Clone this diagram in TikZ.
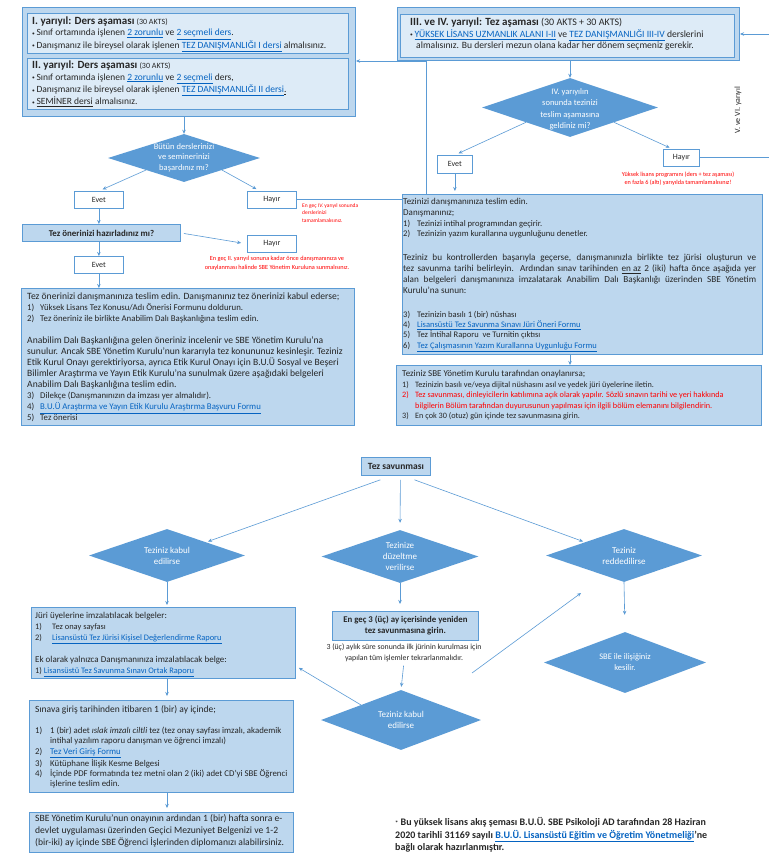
\documentclass[tikz,border=0pt]{standalone}
\usepackage{fontspec}
\setmainfont{Carlito}
\usepackage{tikz}
\usetikzlibrary{arrows.meta,positioning,calc,shapes.geometric}
\definecolor{flow}{HTML}{5B9BD5}
\definecolor{boxbg}{HTML}{BDD7EE}
\definecolor{innerbg}{HTML}{DDEBF7}
\definecolor{linkblue}{HTML}{0563C1}
\definecolor{ink}{HTML}{262626}
\newcommand{\fsz}[2]{\fontsize{#1}{#2}\selectfont}
\newcommand{\lnk}[1]{\textcolor{linkblue}{\underline{#1}}}
\newcommand{\itm}[2][14pt]{\makebox[#1][l]{#2}}
\newcommand{\blt}{{\fsz{5.5}{6}\raisebox{0.5pt}{\textbullet}}\,}
\tikzset{
  box/.style={draw=flow, fill=boxbg, line width=0.8pt, inner sep=0pt, anchor=north west},
  obox/.style={box, line width=1pt},
  ibox/.style={box, fill=innerbg},
  ans/.style={draw=flow, fill=white, line width=0.8pt, inner sep=0pt, anchor=north west, font=\fsz{8}{9}, text=ink},
  dia/.style={diamond, fill=flow, inner sep=0pt},
  diatxt/.style={text=white, align=center, inner sep=0pt},
  txt/.style={anchor=north west, inner sep=0pt, align=left, text=ink},
  note/.style={text=red, align=center, inner sep=0pt},
  arrow/.style={draw=flow, -{Stealth[length=4pt,width=3.5pt]}, line width=0.6pt},
  back/.style={arrow, line width=0.8pt},
}
\begin{document}
\begin{tikzpicture}[x=1pt,y=-1pt]
  \useasboundingbox (0,0) rectangle (768,866);
  \fill[white] (0,0) rectangle (768,866);

  % first year
  \node[obox, minimum width=333, minimum height=109] (tl) at (22,7) {};
  \node[ibox, minimum width=321, minimum height=40] (yi) at (27,13) {};
  \node[ibox, minimum width=321, minimum height=51] (yii) at (27,58) {};
  \node[txt, font=\fsz{9.5}{11}] (yit) at (32,17) {{\fsz{11}{11}\bfseries I. yarıyıl: Ders aşaması} {\fsz{8}{11}(30 AKTS)}\\
    \blt Sınıf ortamında işlenen \lnk{2 zorunlu} ve \lnk{2 seçmeli ders}.\\
    \blt Danışmanız ile bireysel olarak işlenen \lnk{TEZ DANIŞMANLIĞI I dersi} almalısınız.};
  \node[txt, font=\fsz{9.5}{11.3}] (yiit) at (32,61) {{\fsz{11}{11}\bfseries II. yarıyıl: Ders aşaması} {\fsz{8}{11}(30 AKTS)}\\
    \blt Sınıf ortamında işlenen \lnk{2 zorunlu} ve \lnk{2 seçmeli} ders,\\
    \blt Danışmanız ile bireysel olarak işlenen \lnk{TEZ DANIŞMANLIĞI II dersi}\underline{.}\\
    \blt \underline{SEMİNER dersi} almalısınız.};

  % left flow
  \node[dia, minimum width=152, minimum height=48] (q1) at (184,158) {};
  \node[diatxt, font=\fsz{8.5}{10.5}] (q1t) at (184,157.5) {Bütün derslerinizi\\ve seminerinizi\\başardınız mı?};
  \node[ans, minimum width=49, minimum height=17] (e1) at (74,191) {Evet};
  \node[ans, minimum width=49, minimum height=17] (h1) at (247,191) {Hayır};
  \node[note, align=left, anchor=north west, font=\fsz{5.5}{7.5}] (n1) at (302,203) {En geç \textit{IV.} yarıyıl sonunda\\derslerinizi\\tamamlamalısınız.};
  \node[box, line width=1pt, minimum width=158, minimum height=17, font=\fsz{8.9}{10}\bfseries, text=ink] (qb) at (22,224) {Tez önerinizi hazırladınız mı?};
  \node[ans, minimum width=49, minimum height=17] (h2) at (247,235) {Hayır};
  \node[note, font=\fsz{6.3}{9}] (n2) at (277,263) {En geç II. yarıyıl sonuna kadar önce danışmanınıza ve\\onaylanması halinde SBE Yönetim Kuruluna sunmalısınız.};
  \node[ans, minimum width=49, minimum height=17] (e2) at (74,256) {Evet};

  \draw[arrow] (q1.north |- tl.south) -- (q1.north);
  \draw[arrow, shorten >=4pt] (q1.south west) -- (e1.north);
  \draw[arrow, shorten >=4pt] (q1.south east) -- ([xshift=-12pt]h1.north);
  \draw[back] (h1.east) -- ++(130,0) |- ([yshift=-54pt]tl.north east);
  \draw[arrow] (e1.south) -- (e1.south |- qb.north);
  \draw[arrow, shorten <=3pt, shorten >=6pt] (qb.east) -- (h2.west);
  \draw[arrow] (e2.north |- qb.south) -- (e2.north);

  \node[box, minimum width=333, minimum height=137] (lb) at (21,288) {};
  \node[txt, font=\fsz{9.6}{11}] (lbt) at (27,293) {Tez önerinizi danışmanınıza teslim edin. Danışmanınız tez önerinizi kabul ederse;\\
    {\fsz{8.8}{10}\itm[13pt]{1)}Yüksek Lisans Tez Konusu/Adı Önerisi Formunu doldurun.}\\
    {\fsz{8.8}{10}\itm[13pt]{2)}Tez öneriniz ile birlikte Anabilim Dalı Başkanlığına teslim edin.}\\[11pt]
    Anabilim Dalı Başkanlığına gelen öneriniz incelenir ve SBE Yönetim Kurulu'na\\
    sunulur. Ancak SBE Yönetim Kurulu'nun kararıyla tez konununuz kesinleşir. Teziniz\\
    Etik Kurul Onayı gerektiriyorsa, ayrıca Etik Kurul Onayı için B.U.Ü Sosyal ve Beşeri\\
    Bilimler Araştırma ve Yayın Etik Kurulu'na sunulmak üzere aşağıdaki belgeleri\\
    Anabilim Dalı Başkanlığına teslim edin.\\
    {\fsz{8.8}{10}\itm[13pt]{3)}Dilekçe (Danışmanınızın da imzası yer almalıdır).}\\
    {\fsz{8.8}{10}\itm[13pt]{4)}\lnk{B.U.Ü Araştırma ve Yayın Etik Kurulu Araştırma Başvuru Formu}}\\
    {\fsz{8.8}{10}\itm[13pt]{5)}Tez önerisi}};
  \draw[arrow] (e2.south) -- (e2.south |- lb.north);

  % thesis stage
  \node[obox, minimum width=342, minimum height=53] (tr) at (397,7) {};
  \node[ibox, minimum width=334, minimum height=43] (triv) at (400,14) {};
  \node[txt, font=\fsz{9.6}{11.5}] (trt) at (410,18) {{\fsz{11}{11}\bfseries III. ve IV. yarıyıl: Tez aşaması} {\fsz{10}{11}(30 AKTS + 30 AKTS)}\\
    \blt\lnk{YÜKSEK LİSANS UZMANLIK ALANI I-II} ve \lnk{TEZ DANIŞMANLIĞI III-IV} derslerini\\
    \hspace*{6pt}almalısınız. Bu dersleri mezun olana kadar her dönem seçmeniz gerekir.};
  \node[dia, minimum width=176, minimum height=59] (q4) at (570,107.5) {};
  \node[diatxt, font=\fsz{8.5}{11.5}] (q4t) at (570,109.5) {IV. yarıyılın\\sonunda tezinizi\\teslim aşamasına\\geldiniz mi?};
  \node[ans, minimum width=35, minimum height=18] (e3) at (437,155) {Evet};
  \node[ans, minimum width=36, minimum height=17] (h3) at (663,149) {Hayır};
  \node[note, font=\fsz{6.2}{8}] (n3) at (678,179) {Yüksek lisans programını (ders + tez aşaması)\\en fazla 6 (altı) yarıyılda tamamlamalısınız!};
  \node[rotate=90, inner sep=0pt, font=\fsz{8}{9}, text=ink] (vvi) at (738,110) {V. ve VI. yarıyıl};

  \draw[back] (h3.east) -- ++(90,0) |- (tr.east);
  \draw[arrow] (q4.north |- tr.south) -- (q4.north);
  \draw[arrow, shorten >=4pt] (q4.south west) -- (e3.north);
  \draw[arrow, shorten >=3pt] (q4.south east) -- ([xshift=-9pt]h3.north);

  \node[box, minimum width=360, minimum height=160] (rb) at (402,194) {};
  \node[txt, font=\fsz{9}{10.7}] (rbt1) at (403,198.3) {Tezinizi danışmanınıza teslim edin.\\
    Danışmanınız;\\
    {\fsz{8.6}{10}\itm{1)}Tezinizi intihal programından geçirir.}\\
    {\fsz{8.6}{10}\itm{2)}Tezinizin yazım kurallarına uygunluğunu denetler.}};
  \node[txt, font=\fsz{9.2}{11}] (rbt2) at (403,254.2) {\makebox[353pt][s]{Teziniz bu kontrollerden başarıyla geçerse, danışmanınızla birlikte tez jürisi oluşturun ve}\\
    \makebox[353pt][s]{tez savunma tarihi belirleyin. Ardından sınav tarihinden \underline{en az} 2 (iki) hafta önce aşağıda yer}\\
    \makebox[353pt][s]{alan belgeleri danışmanınıza imzalatarak Anabilim Dalı Başkanlığı üzerinden SBE Yönetim}\\
    Kurulu'na sunun:};
  \node[txt, font=\fsz{8.5}{10.3}] (rbt3) at (403,310.7) {\itm{3)}Tezinizin basılı 1 (bir) nüshası\\
    \itm{4)}\lnk{Lisansüstü Tez Savunma Sınavı Jüri Öneri Formu}\\
    \itm{5)}Tez İntihal Raporu\ \ ve Turnitin çıktısı\\
    \itm{6)}\lnk{Tez Çalışmasının Yazım Kurallarına Uygunluğu Formu}};
  \draw[arrow, shorten >=3pt] (e3.south) -- (e3.south |- rb.north);

  \node[box, minimum width=365, minimum height=60] (ob) at (396,365) {};
  \node[txt, font=\fsz{8.2}{10.5}] (obt) at (402,370.3) {{\fsz{9}{10}Teziniz SBE Yönetim Kurulu tarafından onaylanırsa;}\\
    \itm[13pt]{1)}Tezinizin basılı ve/veya dijital nüshasını asıl ve yedek jüri üyelerine iletin.\\
    \textcolor{red}{\itm[13pt]{2)}Tez savunması, dinleyicilerin katılımına açık olarak yapılır. Sözlü sınavın tarihi ve yeri hakkında}\\
    \textcolor{red}{\hspace*{13pt}bilgilerin Bölüm tarafından duyurusunun yapılması için ilgili bölüm elemanını bilgilendirin.}\\
    \itm[13pt]{3)}En çok 30 (otuz) gün içinde tez savunmasına girin.};
  \draw[arrow] (q4.south |- rb.south) -- (q4.south |- ob.north);

  % defence
  \node[box, minimum width=69, minimum height=18, font=\fsz{9.5}{10}\bfseries, text=ink] (ts) at (361,457) {Tez savunması};
  \node[dia, minimum width=156, minimum height=53] (d1) at (167,555.5) {};
  \node[diatxt, font=\fsz{9}{11}] (d1t) at (d1) {Teziniz kabul\\edilirse};
  \node[dia, minimum width=157, minimum height=53] (d2) at (400,556.5) {};
  \node[diatxt, font=\fsz{9}{11}] (d2t) at (d2) {Tezinize\\düzeltme\\verilirse};
  \node[dia, minimum width=156, minimum height=53] (d3) at (624,555.5) {};
  \node[diatxt, font=\fsz{9}{11}] (d3t) at (d3) {Teziniz\\reddedilirse};

  \draw[arrow, shorten >=2pt] ([xshift=-15.5pt,yshift=-4pt]ts.south) -- (d1.north east);
  \draw[arrow, shorten >=7pt] ([xshift=4.5pt,yshift=-4pt]ts.south) -- (d2.north);
  \draw[arrow, shorten >=2pt] ([xshift=18.5pt,yshift=-4pt]ts.south) -- (d3.north west);

  \node[box, minimum width=264, minimum height=71] (jb) at (31,607) {};
  \node[txt, font=\fsz{9}{11}] (jbt) at (35,612) {Jüri üyelerine imzalatılacak belgeler:\\
    {\fsz{8.4}{10}\itm[17pt]{1)}Tez onay sayfası}\\
    {\fsz{8.4}{10}\itm[17pt]{2)}\lnk{Lisansüstü Tez Jürisi Kişisel Değerlendirme Raporu}}\\[11pt]
    Ek olarak yalnızca Danışmanınıza imzalatılacak belge:\\
    {\fsz{8.4}{10}1) \lnk{Lisansüstü Tez Savunma Sınavı Ortak Raporu}}};
  \node[box, minimum width=146, minimum height=29, align=center, font=\fsz{8.8}{11}\bfseries, text=ink] (mb) at (332,611) {En geç 3 (üç) ay içerisinde yeniden\\tez savunmasına girin.};
  \node[inner sep=0pt, align=center, font=\fsz{7.8}{11}, text=ink] (mnote) at (404,652.5) {3 (üç) aylık süre sonunda ilk jürinin kurulması için\\yapılan tüm işlemler tekrarlanmalıdır.};
  \node[dia, minimum width=160, minimum height=60] (d5) at (401,720) {};
  \node[diatxt, font=\fsz{9}{11}] (d5t) at (d5) {Teziniz kabul\\edilirse};
  \node[dia, minimum width=162, minimum height=61] (d4) at (625,662.5) {};
  \node[diatxt, font=\fsz{8.5}{11}] (d4t) at (d4) {SBE ile ilişiğiniz\\kesilir.};

  \draw[arrow, shorten >=2pt] (d1.south) -- (d1.south |- jb.north);
  \draw[arrow, shorten >=7pt] (d2.south) -- (d2.south |- mb.north);
  \draw[arrow, shorten <=4pt, shorten >=3pt] (mnote.south) -- (d5.north);
  \draw[arrow] (d5.north west) -- ([xshift=3pt,yshift=11pt]jb.south east);
  \coordinate (rjA) at (472,673);
  \coordinate (rjB) at (581,593);
  \draw[arrow] (rjA) -- (rjB);
  \draw[arrow, shorten >=17pt] (d3.south) -- (d4.north);

  \node[box, minimum width=264, minimum height=92] (sb) at (29,700) {};
  \node[txt, font=\fsz{9.5}{10.4}] (sbt) at (35,705) {Sınava giriş tarihinden itibaren 1 (bir) ay içinde;\\[11pt]
    {\fsz{8.8}{10}\itm[15pt]{1)}1 (bir) adet \textit{ıslak imzalı ciltli} tez (tez onay sayfası imzalı, akademik}\\
    {\fsz{8.8}{10}\hspace*{15pt}intihal yazılım raporu danışman ve öğrenci imzalı)}\\
    {\fsz{8.8}{10}\itm[15pt]{2)}\lnk{Tez Veri Giriş Formu}}\\
    {\fsz{8.8}{10}\itm[15pt]{3)}Kütüphane İlişik Kesme Belgesi}\\
    {\fsz{8.8}{10}\itm[15pt]{4)}İçinde PDF formatında tez metni olan 2 (iki) adet CD'yi SBE Öğrenci}\\
    {\fsz{8.8}{10}\hspace*{15pt}işlerine teslim edin.}};
  \node[box, minimum width=264, minimum height=40] (fb) at (29,812) {};
  \node[txt, font=\fsz{9.6}{12}] (fbt) at (35,814.7) {SBE Yönetim Kurulu'nun onayının ardından 1 (bir) hafta sonra e-\\
    devlet uygulaması üzerinden Geçici Mezuniyet Belgenizi ve 1-2\\
    (bir-iki) ay içinde SBE Öğrenci İşlerinden diplomanızı alabilirsiniz.};
  \draw[arrow, shorten >=4pt] (d1.south |- jb.south) -- (d1.south |- sb.north);
  \draw[arrow, shorten >=4pt] (d1.south |- sb.south) -- (d1.south |- fb.north);

  % footnote
  \node[txt, font=\fsz{10}{12.5}\bfseries] (fn) at (395,817.6) {{\fsz{6.5}{6}*} Bu yüksek lisans akış şeması B.U.Ü. SBE Psikoloji AD tarafından 28 Haziran\\
    2020 tarihli 31169 sayılı \lnk{B.U.Ü. Lisansüstü Eğitim ve Öğretim Yönetmeliği}'ne\\
    bağlı olarak hazırlanmıştır.};
\end{tikzpicture}
\end{document}
